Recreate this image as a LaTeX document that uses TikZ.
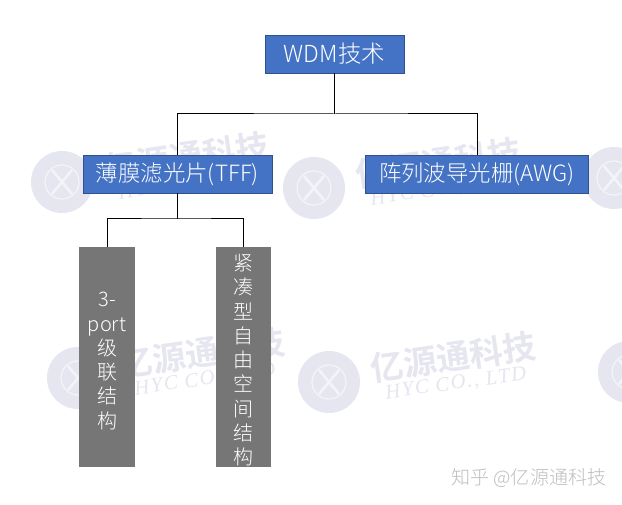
\documentclass[tikz,border=0pt]{standalone}
\usepackage{fontspec}
\setmainfont{Noto Sans CJK SC}[UprightFont=* Light, BoldFont=* Bold]
\newfontfamily\hycfont[LetterSpace=8]{Liberation Serif}
\usetikzlibrary{positioning}
\definecolor{boxblue}{RGB}{68,114,196}
\definecolor{boxedge}{RGB}{47,82,143}
\definecolor{boxgray}{RGB}{118,118,118}
\definecolor{markgray}{RGB}{229,230,239}
\definecolor{marklogo}{RGB}{243,244,248}
\definecolor{zhgray}{RGB}{190,190,190}
\tikzset{
  bluebox/.style={draw=boxedge, fill=boxblue, text=white, font=\fontsize{16.8}{20}\selectfont,
    inner sep=0pt, minimum height=28.5pt},
  graybox/.style={fill=boxgray, text=white, font=\fontsize{15}{18.2}\selectfont,
    inner sep=0pt, align=center, minimum width=41.5pt, minimum height=165pt},
  link/.style={black, line width=0.75pt},
  markname/.style={markgray, font=\fontsize{25}{25}\bfseries\selectfont, rotate=8},
  markeng/.style={markgray, font=\fontsize{15.5}{18}\hycfont\itshape\selectfont, rotate=8}
}
\begin{document}
\begin{tikzpicture}[x=0.75pt, y=-0.75pt]
\useasboundingbox (0,0) rectangle (622,505);
\fill[white] (0,0) rectangle (622,505);
% Watermarks
\begin{scope}
\clip (0,0) rectangle (622,505);
\foreach \cx/\cy/\n in {62/182/a,314/188/b,78/378/c,329/382/d,614/178/e,629/372/f} {
  \fill[markgray] (\cx,\cy) circle (31);
  \draw[marklogo, line width=1pt] (\cx,\cy) circle (17);
  \draw[marklogo, line width=2pt] (\cx-10,\cy-12) -- (\cx+10,\cy+12);
  \draw[marklogo, line width=2pt] (\cx+10,\cy-12) -- (\cx-10,\cy+12);
  \node[markname] (name\n) at (\cx+124,\cy-25) {亿源通科技};
  \node[markeng] (eng\n) at (\cx+127,\cy+2) {HYC CO., LTD};
}
\end{scope}
% Boxes
\node[bluebox, minimum width=104pt, font=\fontsize{17.6}{20}\selectfont] (wdm) at (334.5,54) {WDM技术};
\node[bluebox, minimum width=141.5pt] (tff) at (177.5,174) {薄膜滤光片(TFF)};
\node[bluebox, minimum width=167.5pt] (awg) at (477,174) {阵列波导光栅(AWG)};
\node[graybox] (port) at (107,357) {\rule{0pt}{17pt}3-\\port\\级\\联\\结\\构};
\node[graybox] (free) at (243.5,357) {\rule{0pt}{17pt}紧\\凑\\型\\自\\由\\空\\间\\结\\构};
% Connectors
\coordinate (bustop) at (334.5,114);
\coordinate (buslow) at (177.5,219);
\draw[link] (wdm.south) -- (bustop);
\draw[link] (tff.north) |- (bustop) -| (awg.north);
\draw[link] (tff.south) -- (buslow);
\draw[link] (port.north) |- (buslow) -| (free.north);
% Credit
\node[zhgray, font=\fontsize{14.3}{16}\selectfont, anchor=east] (credit) at (611,478) {知乎 @亿源通科技};
\end{tikzpicture}
\end{document}
